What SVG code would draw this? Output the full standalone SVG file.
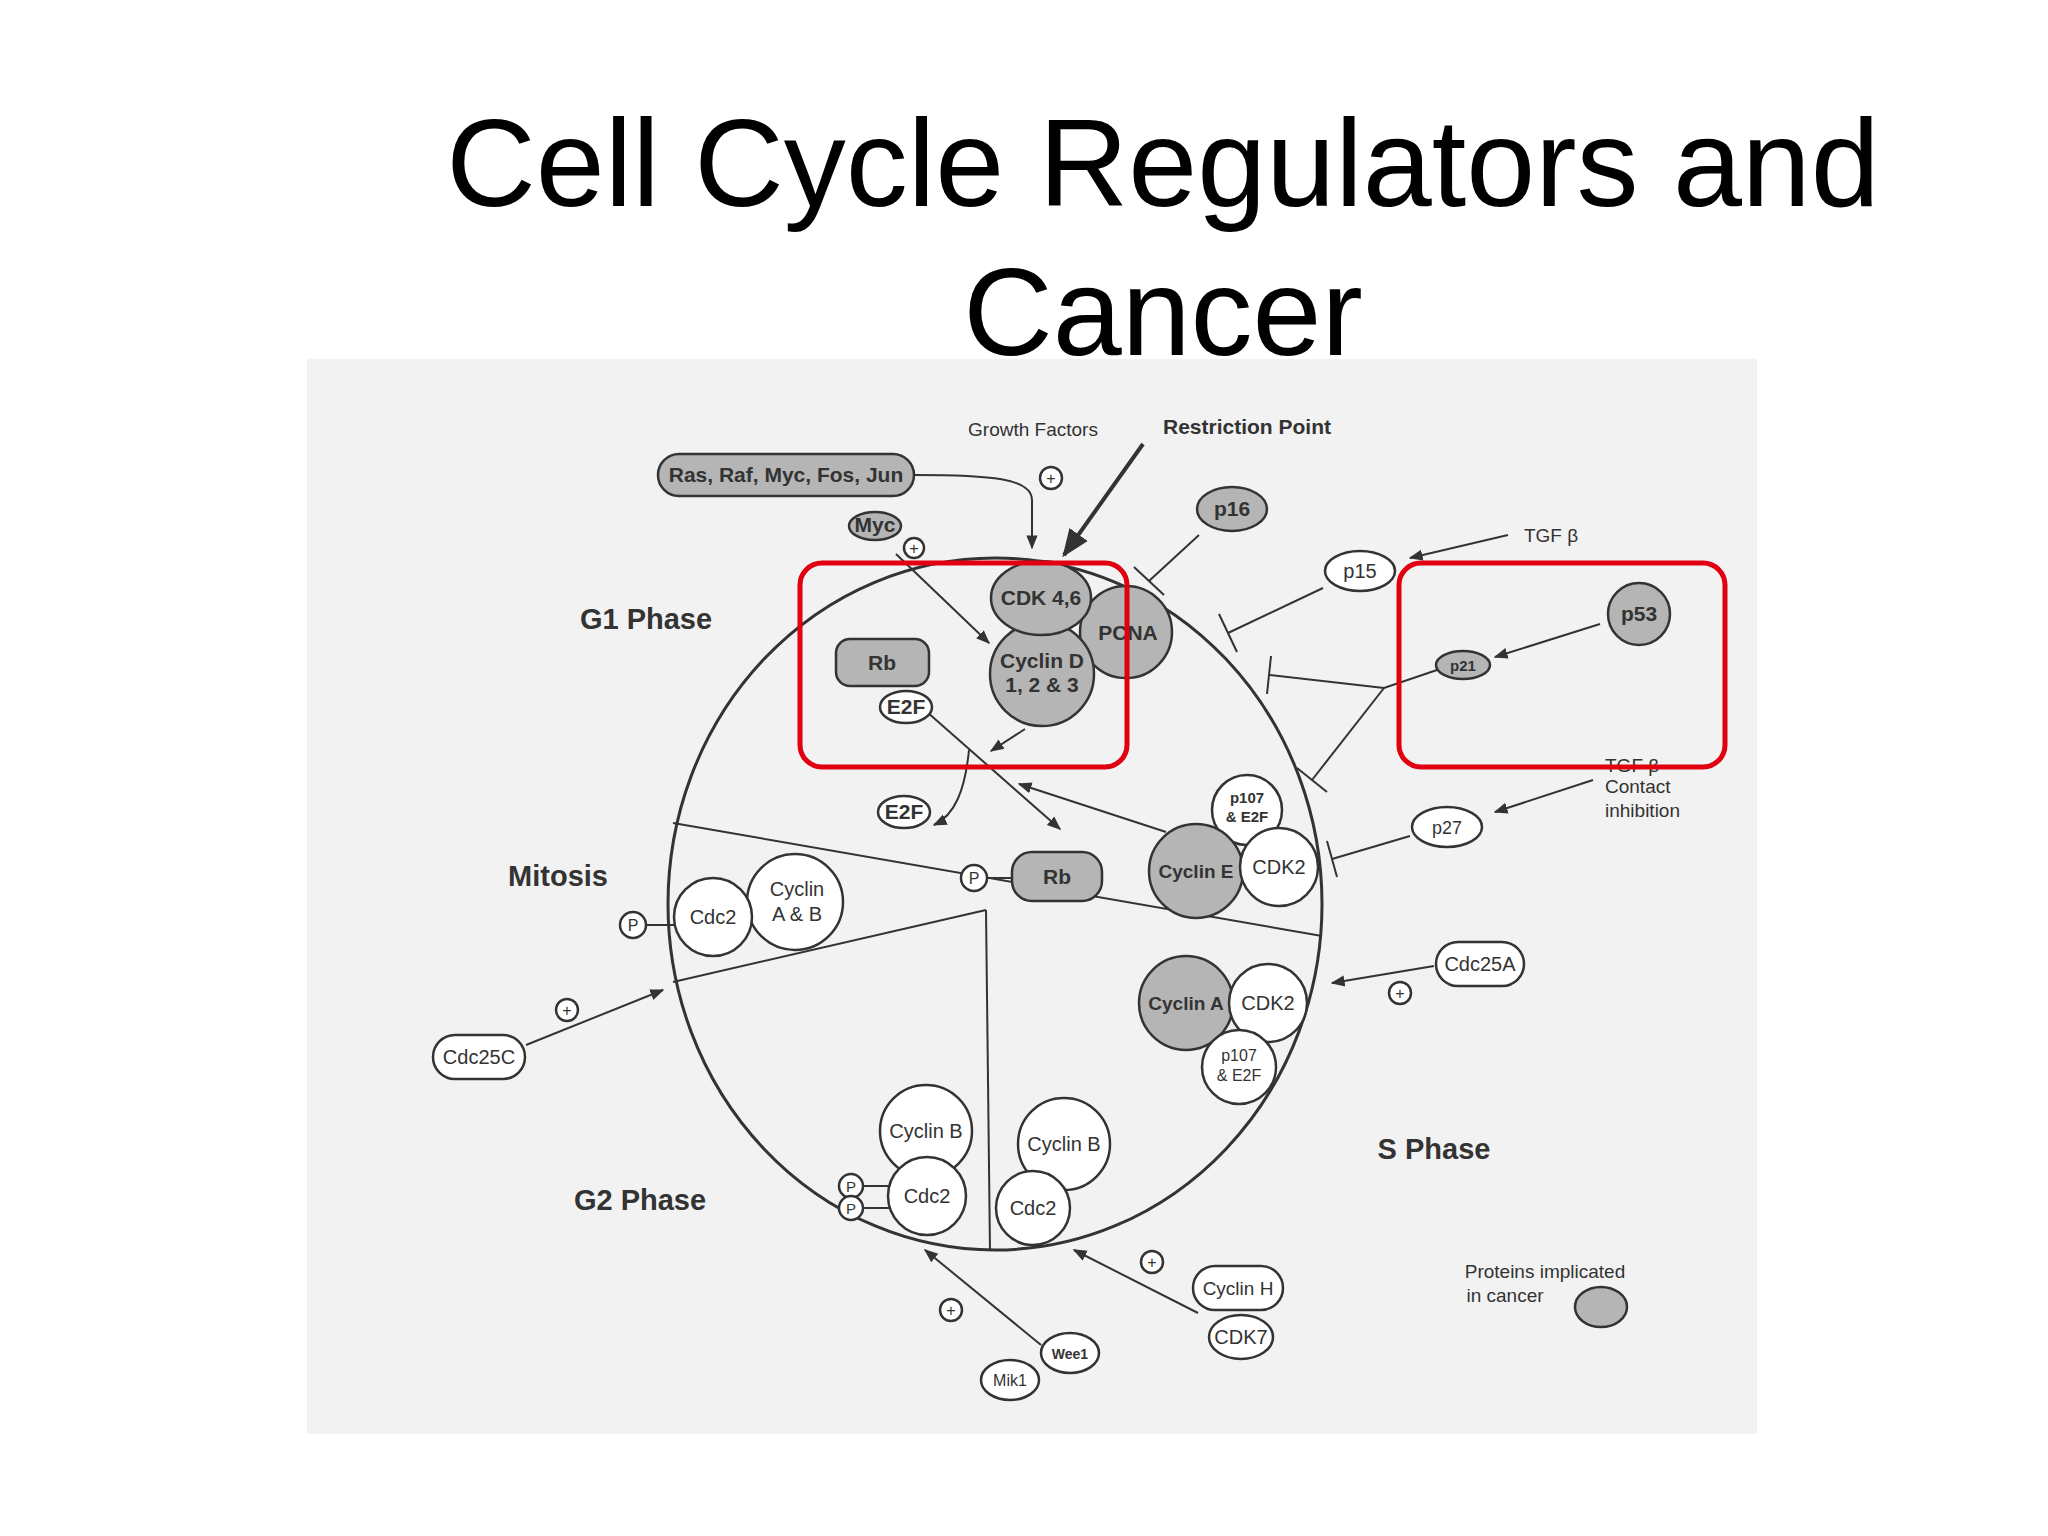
<svg xmlns="http://www.w3.org/2000/svg" width="2048" height="1536" viewBox="0 0 2048 1536">
<defs>
<style>
.n{fill:#fff;stroke:#333;stroke-width:2.5}
.g{fill:#b5b5b5;stroke:#333;stroke-width:2.5}
.t{font-family:"Liberation Sans",Arial,sans-serif;fill:#333;text-anchor:middle}
.s{font-size:19px}
.b{font-size:21px;font-weight:bold}
.ph{font-size:29px;font-weight:bold}
.l{fill:none;stroke:#333;stroke-width:2}
.red{fill:none;stroke:#e0000f;stroke-width:5}
</style>
<marker id="a" viewBox="0 0 10 10" refX="9" refY="5" markerWidth="7" markerHeight="7" orient="auto"><path d="M0,1 L10,5 L0,9 z" fill="#333"/></marker>
</defs>
<rect width="2048" height="1536" fill="#fff"/>
<rect x="307" y="359" width="1450" height="1075" fill="#f2f2f2"/>
<text class="t" x="1163" y="206" font-size="124" fill="#000" style="fill:#000">Cell Cycle Regulators and</text>
<text class="t" x="1163" y="355" font-size="124" style="fill:#000">Cancer</text>

<g id="cycle">
<ellipse cx="995" cy="904" rx="327" ry="346" fill="none" stroke="#333" stroke-width="3"/>
<line class="l" x1="673" y1="823" x2="1322" y2="936"/>
<line class="l" x1="986" y1="910" x2="673" y2="982"/>
<line class="l" x1="986" y1="910" x2="990" y2="1251"/>
</g>

<g id="labels">
<text class="t ph" x="646" y="629">G1 Phase</text>
<text class="t ph" x="558" y="886">Mitosis</text>
<text class="t ph" x="640" y="1210">G2 Phase</text>
<text class="t ph" x="1434" y="1159">S Phase</text>
<text class="t s" x="1033" y="436">Growth Factors</text>
<text class="t b" x="1247" y="434">Restriction Point</text>
<text class="t s" x="1551" y="542">TGF β</text>
<text class="t s" x="1605" y="772" text-anchor="start" style="text-anchor:start">TGF β</text>
<text class="t s" x="1605" y="793" style="text-anchor:start">Contact</text>
<text class="t s" x="1605" y="817" style="text-anchor:start">inhibition</text>
<text class="t s" x="1545" y="1278">Proteins implicated</text>
<text class="t s" x="1505" y="1302">in cancer</text>
</g>

<g id="connectors">
<path class="l" d="M914,475 C990,475 1032,478 1032,500 L1032,548" marker-end="url(#a)"/>
<line x1="1143" y1="444" x2="1064" y2="555" stroke="#333" stroke-width="4" marker-end="url(#a)"/>
<line class="l" x1="896" y1="554" x2="989" y2="643" marker-end="url(#a)"/>
<line class="l" x1="927" y1="712" x2="1060" y2="829" marker-end="url(#a)"/>
<line class="l" x1="1025" y1="729" x2="991" y2="751" marker-end="url(#a)"/>
<path class="l" d="M969,750 C965,790 955,815 934,825" marker-end="url(#a)"/>
<line class="l" x1="987" y1="878" x2="1012" y2="878"/>
<line class="l" x1="1166" y1="832" x2="1019" y2="784" marker-end="url(#a)"/>
<line class="l" x1="1199" y1="535" x2="1149" y2="581"/>
<line class="l" x1="1134" y1="567" x2="1164" y2="595"/>
<line class="l" x1="1508" y1="535" x2="1410" y2="558" marker-end="url(#a)"/>
<line class="l" x1="1323" y1="588" x2="1228" y2="633"/>
<line class="l" x1="1219" y1="614" x2="1237" y2="652"/>
<line class="l" x1="1600" y1="624" x2="1495" y2="657" marker-end="url(#a)"/>
<polyline class="l" points="1437,670 1384,688 1269,675"/>
<line class="l" x1="1271" y1="656" x2="1267" y2="694"/>
<line class="l" x1="1384" y1="688" x2="1312" y2="780"/>
<line class="l" x1="1297" y1="768" x2="1327" y2="792"/>
<line class="l" x1="1593" y1="780" x2="1495" y2="812" marker-end="url(#a)"/>
<line class="l" x1="1410" y1="836" x2="1332" y2="859"/>
<line class="l" x1="1327" y1="841" x2="1337" y2="877"/>
<line class="l" x1="646" y1="925" x2="674" y2="925"/>
<line class="l" x1="526" y1="1045" x2="663" y2="990" marker-end="url(#a)"/>
<line class="l" x1="1434" y1="966" x2="1332" y2="983" marker-end="url(#a)"/>
<line class="l" x1="863" y1="1186" x2="890" y2="1186"/>
<line class="l" x1="863" y1="1208" x2="890" y2="1208"/>
<line class="l" x1="1198" y1="1313" x2="1074" y2="1250" marker-end="url(#a)"/>
<line class="l" x1="1041" y1="1345" x2="925" y2="1250" marker-end="url(#a)"/>
</g>

<g id="plus" class="t s">
<circle class="n" cx="1051" cy="478" r="11" stroke-width="1.5"/><text x="1051" y="484" font-size="16">+</text>
<circle class="n" cx="914" cy="548" r="10" stroke-width="1.5"/><text x="914" y="554" font-size="16">+</text>
<circle class="n" cx="567" cy="1010" r="11" stroke-width="1.5"/><text x="567" y="1016" font-size="16">+</text>
<circle class="n" cx="1400" cy="993" r="11" stroke-width="1.5"/><text x="1400" y="999" font-size="16">+</text>
<circle class="n" cx="1152" cy="1262" r="11" stroke-width="1.5"/><text x="1152" y="1268" font-size="16">+</text>
<circle class="n" cx="951" cy="1310" r="11" stroke-width="1.5"/><text x="951" y="1316" font-size="16">+</text>
</g>

<g id="ras"><rect class="g" x="658" y="454" width="256" height="42" rx="21"/><text class="t b" x="786" y="482" font-size="19">Ras, Raf, Myc, Fos, Jun</text></g>
<g id="myc"><ellipse class="g" cx="875" cy="526" rx="26" ry="14"/><text class="t b" x="875" y="532" font-size="16">Myc</text></g>
<g id="pcna"><circle class="g" cx="1126" cy="632" r="46"/><text class="t b" x="1128" y="640">PCNA</text></g>
<g id="cyclinD"><circle class="g" cx="1042" cy="674" r="52"/><text class="t b" x="1042" y="668">Cyclin D</text><text class="t b" x="1042" y="692">1, 2 &amp; 3</text></g>
<g id="cdk46"><ellipse class="g" cx="1041" cy="598" rx="50" ry="37"/><text class="t b" x="1041" y="605">CDK 4,6</text></g>
<g id="rb"><rect class="g" x="836" y="639" width="93" height="47" rx="14"/><text class="t b" x="882" y="670">Rb</text></g>
<g id="e2f1"><ellipse class="n" cx="906" cy="707" rx="26" ry="16"/><text class="t b" x="906" y="714" font-size="18">E2F</text></g>
<g id="e2f2"><ellipse class="n" cx="904" cy="812" rx="26" ry="16"/><text class="t b" x="904" y="819" font-size="18">E2F</text></g>
<g id="rbp"><rect class="g" x="1012" y="852" width="90" height="49" rx="20"/><text class="t b" x="1057" y="884">Rb</text><circle class="n" cx="974" cy="878" r="13"/><text class="t" x="974" y="884" font-size="16">P</text></g>
<g id="p107a"><circle class="n" cx="1247" cy="810" r="35"/><text class="t" x="1247" y="803" font-size="15" font-weight="bold" style="font-size:15px;font-weight:bold">p107</text><text class="t" x="1247" y="822" style="font-size:15px;font-weight:bold">&amp; E2F</text></g>
<g id="cyclinE"><circle class="g" cx="1196" cy="871" r="47"/><text class="t b" x="1196" y="878" style="font-size:19px">Cyclin E</text></g>
<g id="cdk2a"><circle class="n" cx="1279" cy="867" r="39"/><text class="t" x="1279" y="874" font-size="20">CDK2</text></g>
<g id="p16"><ellipse class="g" cx="1232" cy="509" rx="35" ry="22"/><text class="t b" x="1232" y="516">p16</text></g>
<g id="p15"><ellipse class="n" cx="1360" cy="571" rx="35" ry="20"/><text class="t" x="1360" y="578" font-size="20">p15</text></g>
<g id="p53"><circle class="g" cx="1639" cy="614" r="31"/><text class="t b" x="1639" y="621" font-size="19">p53</text></g>
<g id="p21"><ellipse class="g" cx="1463" cy="665" rx="27" ry="14"/><text class="t" x="1463" y="671" style="font-size:15px;font-weight:bold">p21</text></g>
<g id="p27"><ellipse class="n" cx="1447" cy="827" rx="35" ry="20"/><text class="t" x="1447" y="834" font-size="18">p27</text></g>
<g id="cyclinAB"><circle class="n" cx="795" cy="902" r="48"/><text class="t" x="797" y="896" font-size="20">Cyclin</text><text class="t" x="797" y="921" font-size="20">A &amp; B</text></g>
<g id="cdc2m"><circle class="n" cx="713" cy="917" r="39"/><text class="t" x="713" y="924" font-size="20">Cdc2</text><circle class="n" cx="633" cy="925" r="13"/><text class="t" x="633" y="931" font-size="16">P</text></g>
<g id="cdc25c"><rect class="n" x="433" y="1035" width="92" height="44" rx="22"/><text class="t" x="479" y="1064" font-size="20">Cdc25C</text></g>
<g id="cdc25a"><rect class="n" x="1436" y="942" width="88" height="44" rx="22"/><text class="t" x="1480" y="971" font-size="20">Cdc25A</text></g>
<g id="cyclinA"><circle class="g" cx="1186" cy="1003" r="47"/><text class="t b" x="1186" y="1010" style="font-size:19px">Cyclin A</text></g>
<g id="cdk2b"><circle class="n" cx="1268" cy="1003" r="39"/><text class="t" x="1268" y="1010" font-size="20">CDK2</text></g>
<g id="p107b"><circle class="n" cx="1239" cy="1067" r="37"/><text class="t" x="1239" y="1061" font-size="16">p107</text><text class="t" x="1239" y="1081" font-size="16">&amp; E2F</text></g>
<g id="cyclinB1"><circle class="n" cx="926" cy="1131" r="46"/><text class="t" x="926" y="1138" font-size="20">Cyclin B</text></g>
<g id="cdc2a"><circle class="n" cx="927" cy="1196" r="39"/><text class="t" x="927" y="1203" font-size="20">Cdc2</text>
<circle class="n" cx="851" cy="1186" r="12"/><text class="t" x="851" y="1192" font-size="15">P</text>
<circle class="n" cx="851" cy="1208" r="12"/><text class="t" x="851" y="1214" font-size="15">P</text></g>
<g id="cyclinB2"><circle class="n" cx="1064" cy="1144" r="46"/><text class="t" x="1064" y="1151" font-size="20">Cyclin B</text></g>
<g id="cdc2b"><circle class="n" cx="1033" cy="1208" r="37"/><text class="t" x="1033" y="1215" font-size="20">Cdc2</text></g>
<g id="cyclinH"><rect class="n" x="1193" y="1266" width="90" height="44" rx="22"/><text class="t" x="1238" y="1295" font-size="19">Cyclin H</text></g>
<g id="cdk7"><ellipse class="n" cx="1241" cy="1337" rx="32" ry="22"/><text class="t" x="1241" y="1344" font-size="20">CDK7</text></g>
<g id="wee1"><ellipse class="n" cx="1070" cy="1353" rx="29" ry="20"/><text class="t" x="1070" y="1359" style="font-size:14px;font-weight:bold">Wee1</text></g>
<g id="mik1"><ellipse class="n" cx="1010" cy="1380" rx="29" ry="20"/><text class="t" x="1010" y="1386" font-size="16">Mik1</text></g>
<g id="legend"><ellipse class="g" cx="1601" cy="1307" rx="26" ry="20"/></g>

<g id="highlights">
<rect class="red" x="800" y="563" width="327" height="204" rx="22"/>
<rect class="red" x="1399" y="563" width="326" height="204" rx="22"/>
</g>
</svg>
